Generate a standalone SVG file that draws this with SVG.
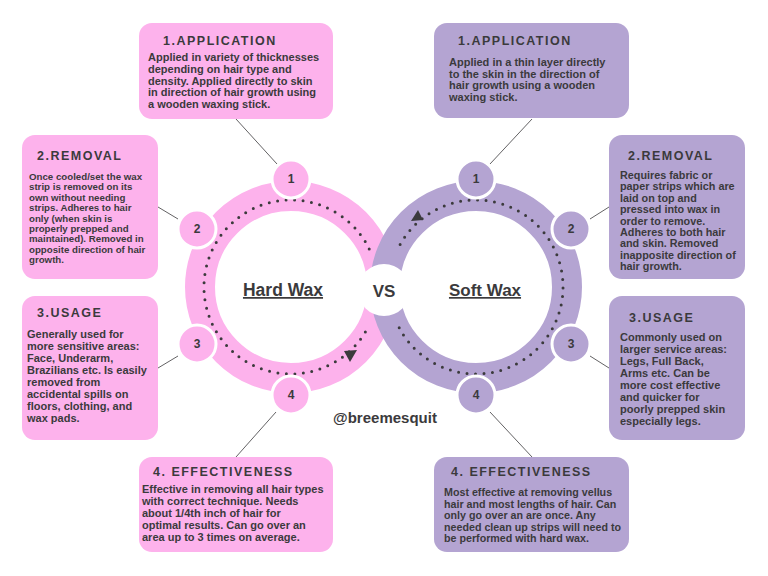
<svg xmlns="http://www.w3.org/2000/svg" width="768" height="576" viewBox="0 0 768 576">
<style>
text{font-family:"Liberation Sans",Arial,sans-serif;font-weight:bold;fill:#3b3a3c}
.t{font-size:12.5px;letter-spacing:1.5px}
.b{font-size:11px}
.pk{fill:#fdb2ec}
.pu{fill:#b4a4d2}
.ln{stroke:#3b3a3c;stroke-width:0.8;fill:none}
.dot{fill:none;stroke:#3b3a3c;stroke-width:3;stroke-linecap:round;stroke-dasharray:0 8.5}
.n text{font-size:12px;text-anchor:middle}
.n circle{stroke:#fff;stroke-width:3}
</style>
<rect width="768" height="576" fill="#fff"/>
<circle cx="291" cy="287" r="91" fill="none" stroke="#fdb2ec" stroke-width="30"/>
<circle cx="476" cy="287" r="91" fill="none" stroke="#b4a4d2" stroke-width="30"/>
<circle cx="384" cy="290" r="26" fill="#fff"/>
<g id="connectors">
<path class="dot" d="M369.2,248.9 A87,87 0 1 0 367.8,327.8"/>
<path class="dot" d="M399.2,327.8 A87,87 0 1 0 398.5,247.5"/>
<polygon points="344,351 357,350 350,362" fill="#3b3a3c"/>
<polygon points="411,221 418,210 423,220" fill="#3b3a3c"/>
<line class="ln" x1="236" y1="119" x2="277" y2="164"/>
<line class="ln" x1="158" y1="207" x2="178" y2="219"/>
<line class="ln" x1="158" y1="368" x2="178" y2="356"/>
<line class="ln" x1="276" y1="412" x2="236" y2="457"/>
<line class="ln" x1="532" y1="119" x2="490" y2="164"/>
<line class="ln" x1="609" y1="207" x2="590" y2="219"/>
<line class="ln" x1="590" y1="356" x2="609" y2="368"/>
<line class="ln" x1="490" y1="412" x2="532" y2="457"/>
</g>
<text x="283" y="296" font-size="17.5" text-anchor="middle" text-decoration="underline">Hard Wax</text>
<text x="384" y="297" font-size="17" text-anchor="middle">VS</text>
<text x="485" y="296" font-size="17" text-anchor="middle" text-decoration="underline">Soft Wax</text>
<text x="385" y="423" font-size="15" text-anchor="middle">@breemesquit</text>
<g class="n" id="hn1"><circle class="pk" cx="291" cy="179" r="19"/><text x="291" y="183">1</text></g>
<g class="n" id="hn2"><circle class="pk" cx="197" cy="229" r="19"/><text x="197" y="233">2</text></g>
<g class="n" id="hn3"><circle class="pk" cx="197" cy="344" r="19"/><text x="197" y="348">3</text></g>
<g class="n" id="hn4"><circle class="pk" cx="291" cy="395" r="19"/><text x="291" y="399">4</text></g>
<g class="n" id="sn1"><circle class="pu" cx="476" cy="179" r="19"/><text x="476" y="183">1</text></g>
<g class="n" id="sn2"><circle class="pu" cx="571" cy="229" r="19"/><text x="571" y="233">2</text></g>
<g class="n" id="sn3"><circle class="pu" cx="571" cy="344" r="19"/><text x="571" y="348">3</text></g>
<g class="n" id="sn4"><circle class="pu" cx="476" cy="395" r="19"/><text x="476" y="399">4</text></g>
<g id="h1"><rect class="pk" x="139" y="23" width="194" height="96" rx="13"/>
<text class="t" x="163" y="45">1.APPLICATION</text>
<text class="b" font-size="10.8" x="148" y="61">Applied in variety of thicknesses<tspan x="148" dy="11.8">depending on hair type and</tspan><tspan x="148" dy="11.8">density. Applied directly to skin</tspan><tspan x="148" dy="11.8">in direction of hair growth using</tspan><tspan x="148" dy="11.8">a wooden waxing stick.</tspan></text></g>
<g id="h2"><rect class="pk" x="22" y="135" width="136" height="144" rx="13"/>
<text class="t" x="37" y="160">2.REMOVAL</text>
<text class="b" style="font-size:9.7px" x="29" y="180">Once cooled/set the wax<tspan x="29" dy="10.4">strip is removed on its</tspan><tspan x="29" dy="10.4">own without needing</tspan><tspan x="29" dy="10.4">strips. Adheres to hair</tspan><tspan x="29" dy="10.4">only (when skin is</tspan><tspan x="29" dy="10.4">properly prepped and</tspan><tspan x="29" dy="10.4">maintained). Removed in</tspan><tspan x="29" dy="10.4">opposite direction of hair</tspan><tspan x="29" dy="10.4">growth.</tspan></text></g>
<g id="h3"><rect class="pk" x="22" y="296" width="136" height="144" rx="13"/>
<text class="t" x="37" y="317">3.USAGE</text>
<text class="b" x="27" y="338">Generally used for<tspan x="27" dy="12">more sensitive areas:</tspan><tspan x="27" dy="12">Face, Underarm,</tspan><tspan x="27" dy="12">Brazilians etc. Is easily</tspan><tspan x="27" dy="12">removed from</tspan><tspan x="27" dy="12">accidental spills on</tspan><tspan x="27" dy="12">floors, clothing, and</tspan><tspan x="27" dy="12">wax pads.</tspan></text></g>
<g id="h4"><rect class="pk" x="139" y="457" width="194" height="95" rx="13"/>
<text class="t" x="153" y="476">4. EFFECTIVENESS</text>
<text class="b" x="142" y="493">Effective in removing all hair types<tspan x="142" dy="12">with correct technique. Needs</tspan><tspan x="142" dy="12">about 1/4th inch of hair for</tspan><tspan x="142" dy="12">optimal results. Can go over an</tspan><tspan x="142" dy="12">area up to 3 times on average.</tspan></text></g>
<g id="s1"><rect class="pu" x="434" y="23" width="195" height="95" rx="13"/>
<text class="t" x="458" y="45">1.APPLICATION</text>
<text class="b" x="449" y="66">Applied in a thin layer directly<tspan x="449" dy="11.7">to the skin in the direction of</tspan><tspan x="449" dy="11.7">hair growth using a wooden</tspan><tspan x="449" dy="11.7">waxing stick.</tspan></text></g>
<g id="s2"><rect class="pu" x="609" y="135" width="136" height="144" rx="13"/>
<text class="t" x="628" y="160">2.REMOVAL</text>
<text class="b" style="font-size:10.8px" x="620" y="179">Requires fabric or<tspan x="620" dy="11.4">paper strips which are</tspan><tspan x="620" dy="11.4">laid on top and</tspan><tspan x="620" dy="11.4">pressed into wax in</tspan><tspan x="620" dy="11.4">order to remove.</tspan><tspan x="620" dy="11.4">Adheres to both hair</tspan><tspan x="620" dy="11.4">and skin. Removed</tspan><tspan x="620" dy="11.4">inapposite direction of</tspan><tspan x="620" dy="11.4">hair growth.</tspan></text></g>
<g id="s3"><rect class="pu" x="609" y="296" width="136" height="144" rx="13"/>
<text class="t" x="629" y="322">3.USAGE</text>
<text class="b" x="620" y="341">Commonly used on<tspan x="620" dy="12">larger service areas:</tspan><tspan x="620" dy="12">Legs, Full Back,</tspan><tspan x="620" dy="12">Arms etc. Can be</tspan><tspan x="620" dy="12">more cost effective</tspan><tspan x="620" dy="12">and quicker for</tspan><tspan x="620" dy="12">poorly prepped skin</tspan><tspan x="620" dy="12">especially legs.</tspan></text></g>
<g id="s4"><rect class="pu" x="434" y="457" width="195" height="95" rx="13"/>
<text class="t" x="451" y="476">4. EFFECTIVENESS</text>
<text class="b" style="font-size:10.7px" x="444" y="496">Most effective at removing vellus<tspan x="444" dy="11.6">hair and most lengths of  hair. Can</tspan><tspan x="444" dy="11.6">only go over an are once. Any</tspan><tspan x="444" dy="11.6">needed clean up strips will need to</tspan><tspan x="444" dy="11.6">be performed with hard wax.</tspan></text></g>
</svg>
